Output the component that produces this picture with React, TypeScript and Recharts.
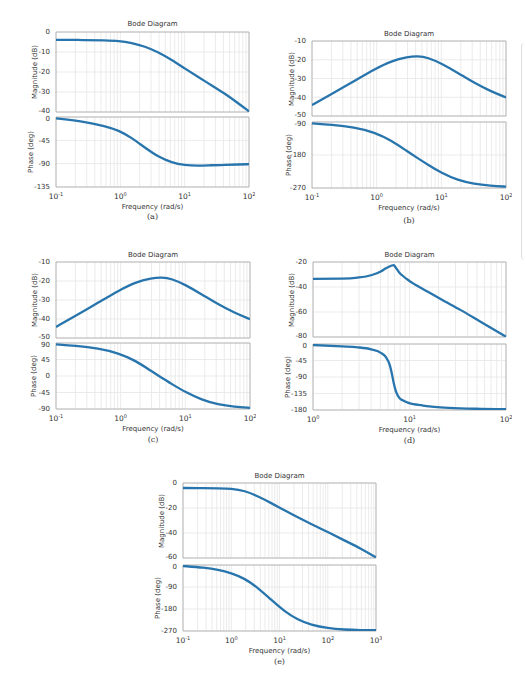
import React from 'react';
import { LineChart, Line, XAxis, YAxis, CartesianGrid, ReferenceArea } from 'recharts';

const FONT = '"DejaVu Sans", "Liberation Sans", sans-serif';
const LINE_COLOR = '#2875ad';
const TEXT_COLOR = '#333';

// (a)
const A_FREQ = [0.1, 0.28, 0.58, 0.94, 1.5, 2.4, 3.9, 6.3, 10, 16, 26, 42, 68, 100];
const A_MAG = [-3.9, -4.0, -4.2, -4.4, -5.4, -7.2, -10.1, -14, -18.2, -22.4, -26.6, -30.8, -35.6, -39.7];
const A_PHASE = [-2.6, -9, -17.4, -25.7, -40, -59, -77, -88, -93, -94, -93, -92.5, -91.5, -91];

// (b)
const B_FREQ = [0.1, 0.2, 0.45, 0.93, 1.7, 3, 4.3, 6.2, 10, 18, 32, 58, 100];
const B_MAG = [-44.2, -38.3, -31.4, -25, -20.6, -18.5, -18, -18.8, -22, -27, -32.3, -36.8, -40.1];
const B_PHASE = [-93.6, -97, -104.5, -118, -140.6, -170.5, -188.6, -206.6, -229, -249, -259, -263.6, -266.3];

// (c)
const C_FREQ = [0.1, 0.2, 0.45, 0.93, 1.7, 3, 4.3, 6.2, 10, 18, 32, 58, 100];
const C_MAG = [-44.2, -38.3, -31.4, -25, -20.6, -18.5, -18, -18.8, -22, -27, -32.3, -36.8, -40.1];
const C_PHASE = [86.4, 83, 75.5, 62.5, 42, 13, -5, -22, -44, -65, -78, -84, -87];

// (d)
const D_FREQ = [1, 2, 2.9, 4, 5.1, 5.7, 6.2, 6.55, 6.87, 7.25, 7.9, 8.5, 9.6, 11, 13.2, 16, 21, 34, 55, 100];
const D_MAG = [-33.5, -33.3, -32.5, -30.6, -27.4, -25, -23.6, -22.8, -22.6, -24.8, -28.8, -31, -34.2, -37.3, -40.8, -44.4, -49.6, -58.5, -68, -79.7];
const D_PHASE = [-2.7, -6.4, -9, -14.6, -24.7, -36, -55, -79.5, -107, -130, -148, -153.5, -160, -164, -167, -170, -172.8, -175.5, -176.8, -178];

// (e)
const E_FREQ = [0.1, 0.28, 0.53, 1, 1.9, 3.6, 6.7, 12.7, 24, 45, 100, 220, 490, 1000];
const E_MAG = [-4, -4.1, -4.3, -4.5, -6.1, -10.7, -16, -21.9, -27.5, -32.8, -39.2, -45.9, -52.5, -59.5];
const E_PHASE = [-4, -11, -19, -33, -55, -93.7, -142, -190, -224.5, -245, -259, -264.5, -266.5, -267];

// axis ticks
const DECADES_3 = [0.1, 1, 10, 100];
const DECADES_D = [1, 10, 100];
const DECADES_E = [0.1, 1, 10, 100, 1000];
const MAG_TICKS_A = [0, -10, -20, -30, -40];
const PHASE_TICKS_A = [0, -45, -90, -135];
const MAG_TICKS_BC = [-10, -20, -30, -40, -50];
const PHASE_TICKS_B = [-90, -180, -270];
const PHASE_TICKS_C = [90, 45, 0, -45, -90];
const MAG_TICKS_D = [-20, -40, -60, -80];
const PHASE_TICKS_D = [0, -45, -90, -135, -180];
const MAG_TICKS_E = [0, -20, -40, -60];
const PHASE_TICKS_E = [0, -90, -180, -270];

// 1..9 x each decade, for the log grid
const withMinor = (decades: number[]) => {
  const out: number[] = [];
  decades.forEach((d, i) => {
    if (i === decades.length - 1) out.push(d);
    else for (let k = 1; k <= 9; k++) out.push(+(k * d).toPrecision(3));
  });
  return out;
};

const DecadeTick = ({ x, y, payload }: any) => {
  const v = payload.value;
  const e = Math.log10(v);
  const exp = Math.round(e);
  if (Math.abs(e - exp) > 1e-6) return null;
  return (
    <text x={x} y={y + 6} textAnchor="middle" fontSize={7.5} fill={TEXT_COLOR} fontFamily={FONT}>
      10<tspan dy={-3.5} fontSize={5}>{exp}</tspan>
    </text>
  );
};

// y tick; the label at the shared edge between the two boxes is nudged a bit
const ValueTick = ({ x, y, payload, edge, shift }: any) => (
  <text
    x={x}
    y={y + (payload.value === edge ? shift : 0)}
    dy="0.355em"
    textAnchor="end"
    fontSize={7}
    fill={TEXT_COLOR}
    fontFamily={FONT}
  >
    {payload.value}
  </text>
);

interface PanelProps {
  caption: string;
  left: number;
  right: number;
  magTop: number;
  magBottom: number;
  phaseTop: number;
  phaseBottom: number;
  titleY: number;
  xLabelY: number;
  captionY: number;
  magLabelGap: number;
  phaseLabelGap: number;
  freq: number[];
  mag: number[];
  phase: number[];
  decades: number[];
  magTicks: number[];
  phaseTicks: number[];
  curve?: 'basis' | 'monotone';
}

const Txt = ({ x, y, size, rotate, serif, children }: any) => (
  <div
    style={{
      position: 'absolute',
      left: x,
      top: y,
      transform: `translate(-50%, -50%)${rotate ? ' rotate(-90deg)' : ''}`,
      fontSize: size,
      fontFamily: serif ? '"DejaVu Serif", "Liberation Serif", serif' : FONT,
      color: TEXT_COLOR,
      whiteSpace: 'nowrap',
      lineHeight: 1,
    }}
  >
    {children}
  </div>
);

const AXIS_W = 44;
const PAD_T = 6;
const PAD_R = 6;

const BodePanel = (p: PanelProps) => {
  const data = p.freq.map((f, i) => ({ f, mag: p.mag[i], phase: p.phase[i] }));
  const w = p.right - p.left;
  const magH = p.magBottom - p.magTop;
  const phH = p.phaseBottom - p.phaseTop;
  const xDomain = [p.decades[0], p.decades[p.decades.length - 1]];
  const xTicks = withMinor(p.decades);
  const magDomain = [Math.min(...p.magTicks), Math.max(...p.magTicks)];
  const phDomain = [Math.min(...p.phaseTicks), Math.max(...p.phaseTicks)];
  const cx = (p.left + p.right) / 2;
  const curve = p.curve || 'basis';

  const sub = (key: string, ticks: number[], domain: number[], h: number, top: number, showX: boolean) => (
    <div style={{ position: 'absolute', left: p.left - AXIS_W, top: top - PAD_T }}>
      <LineChart
        width={w + AXIS_W + PAD_R}
        height={h + PAD_T + (showX ? 16 : 4)}
        data={data}
        margin={{ top: PAD_T, right: PAD_R, bottom: showX ? 0 : 4, left: 0 }}
      >
        <CartesianGrid stroke="#e6e6e6" strokeWidth={0.8} />
        <XAxis
          dataKey="f"
          type="number"
          scale="log"
          domain={xDomain}
          ticks={xTicks}
          allowDataOverflow
          hide={!showX}
          height={16}
          tickLine={false}
          axisLine={false}
          tickSize={4}
          tickMargin={2}
          interval={0}
          tick={<DecadeTick />}
        />
        <YAxis
          type="number"
          domain={domain}
          ticks={ticks}
          width={AXIS_W}
          interval={0}
          tickLine={false}
          axisLine={false}
          tickSize={3}
          tickMargin={3}
          allowDataOverflow
          tick={<ValueTick edge={showX ? domain[1] : domain[0]} shift={showX ? 1.5 : -1.5} />}
        />
        <ReferenceArea x1={xDomain[0]} x2={xDomain[1]} y1={domain[0]} y2={domain[1]} fill="none" stroke="#a8a8a8" strokeWidth={0.8} />
        <Line
          dataKey={key}
          type={curve}
          stroke={LINE_COLOR}
          strokeWidth={2.3}
          dot={false}
          isAnimationActive={false}
        />
      </LineChart>
    </div>
  );

  return (
    <>
      <Txt x={cx} y={p.titleY} size={7}>Bode Diagram</Txt>
      {sub('mag', p.magTicks, magDomain, magH, p.magTop, false)}
      {sub('phase', p.phaseTicks, phDomain, phH, p.phaseTop, true)}
      <Txt x={p.left - p.magLabelGap} y={(p.magTop + p.magBottom) / 2} size={7} rotate>Magnitude (dB)</Txt>
      <Txt x={p.left - p.phaseLabelGap} y={(p.phaseTop + p.phaseBottom) / 2} size={7} rotate>Phase (deg)</Txt>
      <Txt x={cx} y={p.xLabelY} size={7}>Frequency  (rad/s)</Txt>
      <Txt x={cx} y={p.captionY} size={8} serif>{p.caption}</Txt>
    </>
  );
};

export default function App() {
  return (
    <div style={{ position: 'absolute', left: 0, top: 0, width: 526, height: 700, background: '#fff', overflow: 'hidden' }}>
      <BodePanel caption="(a)" left={56} right={249} magTop={32} magBottom={112} phaseTop={117} phaseBottom={187}
        titleY={24} xLabelY={207} captionY={217} magLabelGap={21} phaseLabelGap={25}
        freq={A_FREQ} mag={A_MAG} phase={A_PHASE} decades={DECADES_3} magTicks={MAG_TICKS_A} phaseTicks={PHASE_TICKS_A} />
      <BodePanel caption="(b)" left={312} right={506} magTop={41} magBottom={116} phaseTop={122} phaseBottom={188}
        titleY={34} xLabelY={208} captionY={221} magLabelGap={20} phaseLabelGap={23}
        freq={B_FREQ} mag={B_MAG} phase={B_PHASE} decades={DECADES_3} magTicks={MAG_TICKS_BC} phaseTicks={PHASE_TICKS_B} />
      <BodePanel caption="(c)" left={56} right={250} magTop={262} magBottom={338} phaseTop={343} phaseBottom={409}
        titleY={255} xLabelY={429} captionY={440} magLabelGap={21} phaseLabelGap={22}
        freq={C_FREQ} mag={C_MAG} phase={C_PHASE} decades={DECADES_3} magTicks={MAG_TICKS_BC} phaseTicks={PHASE_TICKS_C} />
      <BodePanel caption="(d)" left={313} right={506} magTop={262} magBottom={337} phaseTop={344} phaseBottom={410}
        titleY={255} xLabelY={430} captionY={441} magLabelGap={21} phaseLabelGap={25} curve="monotone"
        freq={D_FREQ} mag={D_MAG} phase={D_PHASE} decades={DECADES_D} magTicks={MAG_TICKS_D} phaseTicks={PHASE_TICKS_D} />
      <BodePanel caption="(e)" left={183} right={376} magTop={483} magBottom={558} phaseTop={565} phaseBottom={631}
        titleY={476} xLabelY={651} captionY={662} magLabelGap={21} phaseLabelGap={25}
        freq={E_FREQ} mag={E_MAG} phase={E_PHASE} decades={DECADES_E} magTicks={MAG_TICKS_E} phaseTicks={PHASE_TICKS_E} />
      <div style={{ position: 'absolute', left: 521, top: 43, width: 10, height: 217, borderLeft: '1px solid #dcdcdc', borderRadius: '4px 0 0 4px' }} />
    </div>
  );
}
